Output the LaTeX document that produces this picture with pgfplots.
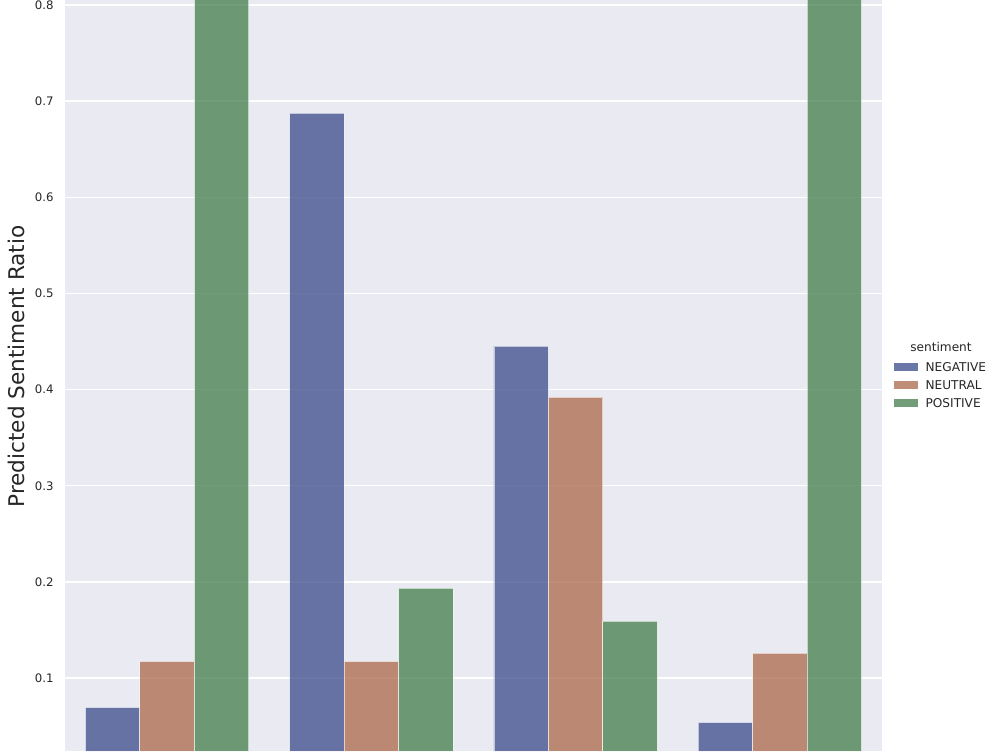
\documentclass[border=0pt]{standalone}
\usepackage{fontspec}
\setmainfont{DejaVu Sans}
\usepackage{pgfplots}
\pgfplotsset{compat=1.18}

\definecolor{sbbg}{RGB}{234,234,242}
\definecolor{sbtext}{RGB}{38,38,38}
\definecolor{cneg}{RGB}{58,74,137}
\definecolor{cneu}{RGB}{171,104,73}
\definecolor{cpos}{RGB}{66,126,75}

\begin{document}
\begin{tikzpicture}
\useasboundingbox (-48.75pt,0pt) rectangle (701.25pt,563.25pt);
\begin{axis}[
    name=main,
    at={(0pt,0pt)}, anchor=south west,
    scale only axis,
    width=612.75pt, height=563.25pt,
    xmin=-0.5, xmax=3.5,
    ymin=0.0241, ymax=0.8052,
    xtick=\empty,
    ytick={0.1,0.2,0.3,0.4,0.5,0.6,0.7,0.8},
    yticklabels={0.1,0.2,0.3,0.4,0.5,0.6,0.7,0.8},
    axis background/.style={fill=sbbg},
    axis line style={draw=none},
    major tick length=0pt,
    ymajorgrids,
    grid style={white, line width=1pt},
    yticklabel style={font=\fontsize{8.8}{10}\selectfont, text=sbtext, anchor=east, xshift=-5pt},
    ylabel={Predicted Sentiment Ratio},
    every axis y label/.style={at={(rel axis cs:-0.0594,0.512)}, rotate=90, anchor=center,
        font=\fontsize{16.2}{18}\selectfont, text=sbtext},
    legend style={at={(rel axis cs:1.0147,0.5206)}, anchor=north west, draw=none, fill=none,
        font=\fontsize{9.1}{10}\selectfont, text=sbtext, row sep=2.6pt,
        inner sep=0pt, nodes={inner sep=2pt, text depth=0pt},
        /tikz/every odd column/.append style={column sep=3.5pt}},
    legend cell align=left,
    legend image code/.code={\fill[#1, draw=none] (0pt,-3pt) rectangle (18pt,3pt);},
]
\addplot[ybar, bar width=0.2667, bar shift=-0.2667, fill=cneg, fill opacity=0.75,
    draw=white, draw opacity=0.6, line width=0.6pt] coordinates {
    (0,0.0695) (1,0.6875) (2,0.4452) (3,0.054)
};
\addlegendentry{NEGATIVE}
\addplot[ybar, bar width=0.2667, bar shift=0, fill=cneu, fill opacity=0.75,
    draw=white, draw opacity=0.6, line width=0.6pt] coordinates {
    (0,0.1174) (1,0.1174) (2,0.3922) (3,0.126)
};
\addlegendentry{NEUTRAL}
\addplot[ybar, bar width=0.2667, bar shift=0.2667, fill=cpos, fill opacity=0.75,
    draw=white, draw opacity=0.6, line width=0.6pt] coordinates {
    (0,0.86) (1,0.1935) (2,0.1593) (3,0.86)
};
\addlegendentry{POSITIVE}
\end{axis}
\path (main.south west) ++(657pt,303pt) node[font=\fontsize{9.1}{10}\selectfont, text=sbtext, anchor=center] {sentiment};
\end{tikzpicture}
\end{document}
